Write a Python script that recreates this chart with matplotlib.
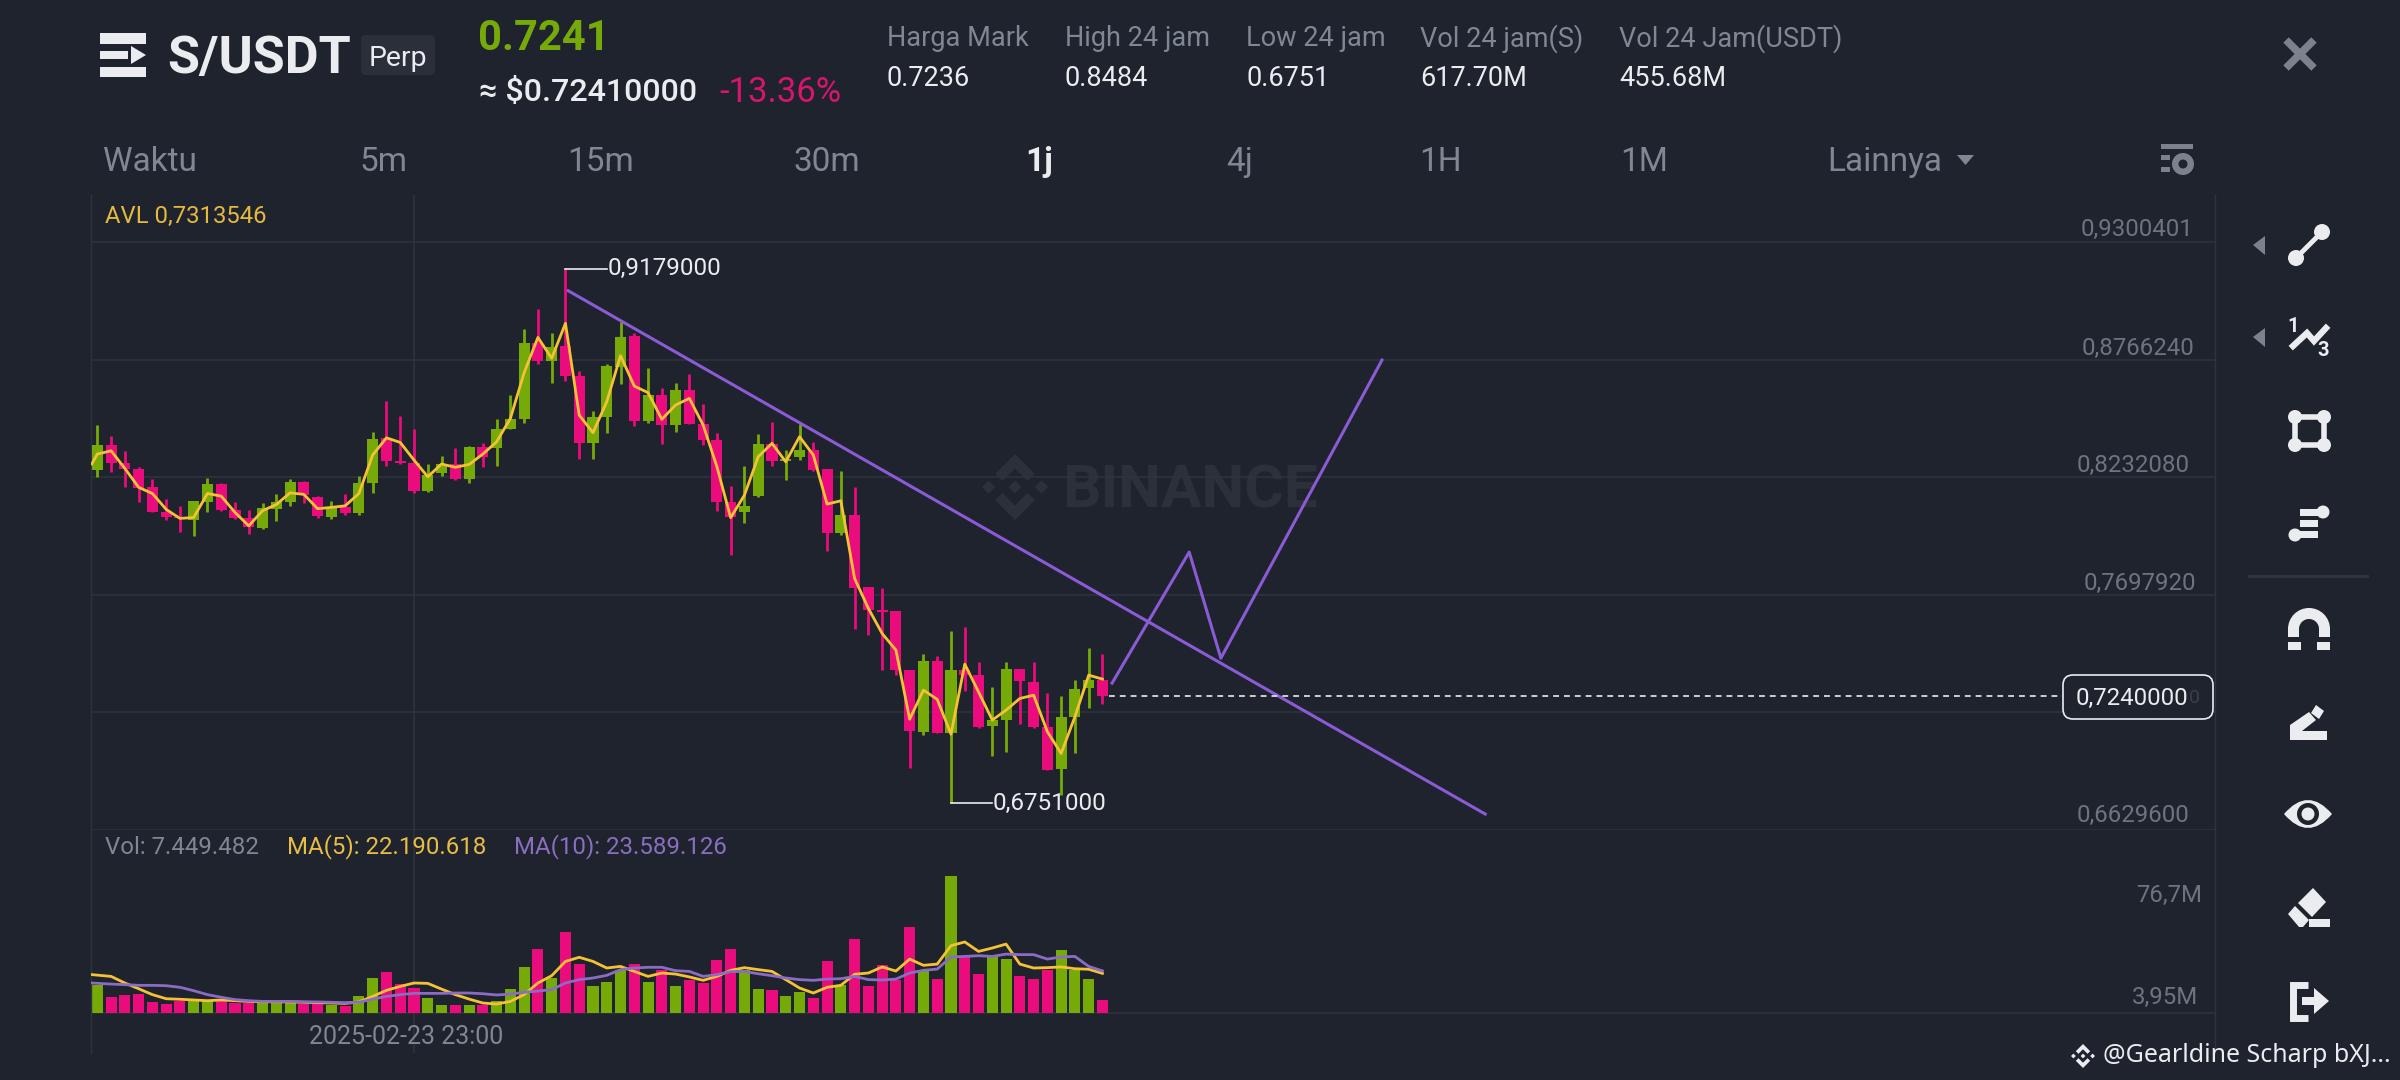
import numpy as np
import matplotlib
matplotlib.use("Agg")
import matplotlib.pyplot as plt
from matplotlib.patches import Polygon, Rectangle, Circle, Wedge, FancyBboxPatch, PathPatch
from matplotlib.path import Path

plt.rcParams['font.family'] = ['Roboto', 'DejaVu Sans']

# candles
highs = [.8469,.8420,.8352,.8280,.8224,.8131,.8102,.8125,.8230,.8207,.8121,.8083,.8116,.8154,.8222,.8213,.8146,.8125,.8154,.8239,
         .8436,.8579,.8510,.8451,.8290,.8330,.8363,.8372,.8389,.8495,.8605,.8905,.8996,.8885,.9179,.8714,.8534,.8745,.8938,.8885,
         .8726,.8636,.8661,.8701,.8564,.8434,.8192,.8283,.8428,.8484,.8355,.8476,.8393,.8268,.8261,.8189,.7734,.7731,.7625,.7356,
         .7427,.7419,.7535,.7553,.7394,.7280,.7394,.7363,.7394,.7253,.7239,.7313,.7457,.7429]
lows = [.8234,.8257,.8186,.8118,.8072,.8037,.7984,.7966,.8075,.8078,.8040,.7972,.7999,.8033,.8102,.8113,.8045,.8043,.8060,.8059,
        .8161,.8284,.8292,.8161,.8167,.8239,.8219,.8204,.8280,.8284,.8449,.8480,.8745,.8661,.8670,.8314,.8314,.8431,.8655,.8466,
        .8480,.8383,.8439,.8473,.8378,.8080,.7878,.8022,.8140,.8283,.8219,.8310,.8261,.7898,.7969,.7542,.7515,.7356,.7333,.6909,
        .7059,.7068,.6751,.7260,.7095,.6965,.6985,.7110,.7095,.6902,.6788,.6980,.7182,.7204]
opens = [.8265,.8378,.8295,.8268,.8189,.8075,.8052,.8037,.8121,.8201,.8083,.8045,.8003,.8087,.8121,.8211,.8143,.8052,.8098,.8071,
         .8204,.8408,.8305,.8295,.8171,.8249,.8292,.8222,.8371,.8366,.8449,.8495,.8842,.8760,.8828,.8693,.8389,.8507,.8734,.8873,
         .8487,.8605,.8469,.8628,.8473,.8401,.8121,.8072,.8146,.8383,.8305,.8325,.8355,.8268,.7980,.8060,.7734,.7628,.7625,.7356,
         .7076,.7398,.7071,.7356,.7333,.7101,.7129,.7363,.7303,.7098,.6905,.7141,.7273,.7313]
closes = [.8378,.8295,.8268,.8181,.8075,.8052,.8045,.8122,.8201,.8083,.8045,.8007,.8090,.8118,.8211,.8151,.8055,.8098,.8068,.8204,
          .8404,.8305,.8295,.8171,.8242,.8292,.8222,.8371,.8325,.8449,.8495,.8842,.8760,.8825,.8693,.8389,.8504,.8737,.8867,.8487,
          .8605,.8469,.8628,.8473,.8401,.8121,.8052,.8102,.8383,.8307,.8313,.8355,.8265,.7980,.8060,.7731,.7631,.7619,.7356,.7079,
          .7398,.7071,.7356,.7333,.7098,.7129,.7363,.7306,.7098,.6902,.7141,.7270,.7313,.7240]
avl = [.8337,.8352,.8272,.8186,.8158,.8086,.8045,.8049,.8158,.8146,.8072,.8011,.8080,.8108,.8161,.8154,.8089,.8095,.8102,.8158,
       .8333,.8411,.8390,.8310,.8234,.8292,.8277,.8290,.8337,.8393,.8499,.8707,.8867,.8772,.8931,.8514,.8434,.8575,.8784,.8646,
       .8616,.8495,.8560,.8590,.8469,.8280,.8048,.8151,.8325,.8386,.8302,.8416,.8333,.8110,.8125,.7772,.7636,.7522,.7447,.7133,
       .7265,.7223,.7065,.7383,.7257,.7129,.7174,.7227,.7242,.7076,.6977,.7144,.7333,.7315]
avl_start = .8292

# volume in millions
volumes = [15.9,8.8,9.9,10.5,6.0,4.9,6.9,6.9,6.9,6.5,5.4,5.6,6.5,6.0,6.5,4.9,5.4,4.5,4.1,9.7,
           19.8,23.0,16.2,13.8,8.4,4.5,4.5,4.5,4.5,6.9,13.4,25.6,36.0,19.6,45.2,27.6,14.9,17.2,24.3,27.4,
           17.2,24.3,14.9,18.7,16.6,29.7,35.7,24.3,13.6,12.7,9.7,11.8,8.6,29.3,15.9,41.4,14.9,26.7,18.7,48.2,
           24.3,19.2,76.5,31.2,21.8,31.7,30.4,20.5,19.2,23.9,35.1,24.3,19.2,7.45]
vol_ma5 = [21.5,20.5,16.8,13.6,10.3,8.0,7.7,7.3,6.9,7.3,6.9,6.5,6.3,6.3,6.2,6.0,5.8,5.6,5.4,6.2,
           9.3,12.7,14.9,16.8,16.6,13.4,10.3,7.8,5.6,5.0,6.5,10.3,16.8,20.9,28.9,31.2,28.9,25.2,26.1,23.3,
           20.5,22.4,21.8,20.2,18.3,20.5,23.9,25.4,24.3,23.3,18.7,14.0,11.2,14.4,15.5,21.7,22.4,25.8,23.5,30.2,
           26.7,27.4,37.7,39.8,34.5,36.4,38.6,27.4,25.2,25.4,25.8,24.8,24.5,22.19]
vol_ma10 = [16.8,16.2,15.9,15.5,15.5,15.3,14.4,12.5,10.3,8.8,7.5,6.9,6.5,6.5,6.5,6.3,6.2,6.0,5.8,6.0,
            7.8,9.3,10.3,11.0,11.0,11.0,11.2,11.2,10.8,10.1,10.6,11.6,12.3,13.1,16.8,18.7,19.6,21.1,24.3,25.2,
            25.6,25.6,23.7,23.3,20.5,21.5,23.2,23.3,22.0,20.9,19.6,18.7,18.3,19.0,19.2,20.5,18.7,18.5,19.0,22.4,
            23.9,24.6,31.4,31.7,32.1,31.7,33.0,32.7,32.7,30.2,31.4,31.7,26.1,23.59]

# hand drawn lines on the chart (bar index, price)
trend_x = [34.2, 100.8]
trend_y = [.9079, .6702]
path_x = [73.7, 79.3, 81.6, 93.3]
path_y = [.7297, .7892, .7410, .8764]

grid_prices = [.9300401, .8766240, .8232080, .7697920, .7163760, .6629600]
last_price = .7240
high_price = .9179
low_price = .6751

price_labels = ['0,9300401', '0,8766240', '0,8232080', '0,7697920', '0,6629600']
price_label_xy = [(2193, 229), (2194, 348), (2190, 465), (2196, 583), (2189, 815)]
stat_names = ['Harga Mark', 'High 24 jam', 'Low 24 jam', 'Vol 24 jam(S)', 'Vol 24 Jam(USDT)']
stat_values = ['0.7236', '0.8484', '0.6751', '617.70M', '455.68M']
stat_x = [887, 1065, 1246, 1420, 1619]
tabs = ['5m', '15m', '30m', '1j', '4j', '1H', '1M']
tab_x = [384, 601, 827, 1039, 1240, 1440, 1644]

BG = '#1e232d'
GRID = '#2e333d'
GREEN = '#76aa08'
PINK = '#ea0b7d'
YELLOW = '#f4c234'
PURPLE = '#8b5bd6'
GREY = '#7f8794'
AXGREY = '#6d7480'
WHITE = '#eaecef'
ICON = '#7b828e'

W, H = 2400, 1080
fig = plt.figure(figsize=(24, 10.8), dpi=100, facecolor=BG)


def axes_px(x0, y0, x1, y1):
    return fig.add_axes([x0 / W, 1 - y1 / H, (x1 - x0) / W, (y1 - y0) / H])


ax = axes_px(90.7, 195, 2215, 830)
vol = axes_px(90.7, 830, 2215, 1053)
ui = fig.add_axes([0, 0, 1, 1], zorder=5)
ui.set_xlim(0, W)
ui.set_ylim(H, 0)
ui.axis('off')

xlim = (-0.48, 153.8)
x = np.arange(len(closes))
colors = [GREEN if c >= o else PINK for o, c in zip(opens, closes)]

for a in (ax, vol):
    a.set_facecolor(BG)
    a.set_xlim(*xlim)
    a.set_xticks([23])
    a.grid(True, color=GRID, lw=1.1)
    a.set_axisbelow(True)
    a.tick_params(length=0, labelleft=False, labelbottom=False)
    for side in a.spines:
        a.spines[side].set_visible(side in ('left', 'right'))
        a.spines[side].set_color(GRID)
        a.spines[side].set_linewidth(1.0)

# watermark sits under the candles
ax.set_ylim(.6629600, .95139)
ax.set_yticks(grid_prices)


def binance_logo(a, cx, cy, s, color, **kw):
    top = [(0, -1), (.6, -.4), (.38, -.18), (0, -.56), (-.38, -.18), (-.6, -.4)]
    shapes = [top, [(p, -q) for p, q in top]]
    for dx in (-.8, 0, .8):
        shapes.append([(dx, -.2), (dx + .2, 0), (dx, .2), (dx - .2, 0)])
    for sh in shapes:
        a.add_patch(Polygon([(cx + p * s, cy + q * s) for p, q in sh], closed=True, fc=color, ec='none', **kw))


binance_logo(ax, 1015, 487, 33, '#2b303a', transform=ui.transData, zorder=0.5)
ax.text(1062, 492, 'BINANCE', transform=ui.transData, color='#2b303a', fontsize=43.5, fontweight='bold',
        va='center', ha='left', zorder=0.5)

ax.vlines(x, lows, highs, colors=colors, lw=2.0, zorder=2)
ax.bar(x, np.abs(np.array(closes) - np.array(opens)), bottom=np.minimum(opens, closes), width=0.8, color=colors, zorder=3)
ax.plot(np.r_[-0.4, x], np.r_[avl_start, avl], color=YELLOW, lw=2.0, zorder=4)
ax.plot(trend_x, trend_y, color=PURPLE, lw=2.2, zorder=4)
ax.plot(path_x, path_y, color=PURPLE, lw=2.2, zorder=4)
ax.plot([73.5, 142.75], [last_price, last_price], color=WHITE, lw=1.2, ls=(0, (3.5, 3)), zorder=4)

# high / low markers
ax.plot([34, 37], [high_price, high_price], color=WHITE, lw=1.2, zorder=4)
ax.text(37.05, high_price, '0,9179000', color=WHITE, fontsize=17.5, va='center', ha='left', zorder=4)
ax.plot([62, 65], [low_price, low_price], color=WHITE, lw=1.2, zorder=4)
ax.text(65.05, low_price, '0,6751000', color=WHITE, fontsize=17.5, va='center', ha='left', zorder=4)

# volume pane
vol.set_ylim(-22.4, 102.5)
vol.set_yticks([0])
vol.bar(x, volumes, width=0.8, color=colors, zorder=2)
vol_x = np.r_[-0.4, x[1:]]
vol.plot(vol_x, vol_ma5, color=YELLOW, lw=2.0, zorder=3)
vol.plot(vol_x, vol_ma10, color='#8a6cc4', lw=2.0, zorder=3)


def txt(px, py, s, color=GREY, size=19, ha='left', weight='normal', **kw):
    ui.text(px, py, s, color=color, fontsize=size, ha=ha, va='center', fontweight=weight, **kw)


def poly(pts, color=WHITE):
    ui.add_patch(Polygon(pts, closed=True, fc=color, ec='none'))


def rect(x0, y0, x1, y1, color=WHITE):
    ui.add_patch(Rectangle((x0, y0), x1 - x0, y1 - y0, fc=color, ec='none'))


def dot(cx, cy, r, color=WHITE):
    ui.add_patch(Circle((cx, cy), r, fc=color, ec='none'))


# header
rect(100, 33, 146, 44)
rect(100, 51, 128, 59)
poly([(131, 46), (146, 55), (131, 64)])
rect(100, 67, 146, 77)
txt(167, 59, 'S/USDT', WHITE, 37.5, weight='bold')
ui.add_patch(FancyBboxPatch((365, 39), 66, 32, boxstyle='round,pad=4,rounding_size=5', fc='#2a2f39', ec='none'))
txt(398, 59, 'Perp', WHITE, 20.5, ha='center')
txt(478, 38, '0.7241', GREEN, 30, weight='bold')
txt(479, 93, '≈ $0.72410000', WHITE, 23.2, weight='medium')
txt(719, 93, '-13.36%', '#d6156f', 25)
for sx, name, value in zip(stat_x, stat_names, stat_values):
    txt(sx, 39, name, GREY, 19.5)
    txt(sx, 79, value, WHITE, 19.5)

# time tabs
txt(103, 162, 'Waktu', GREY, 24)
for tx, tab in zip(tab_x, tabs):
    if tab == '1j':
        txt(tx, 162, tab, WHITE, 24, ha='center', weight='bold')
    else:
        txt(tx, 162, tab, GREY, 24, ha='center')
txt(1827, 162, 'Lainnya', GREY, 24)
poly([(1957, 155), (1974, 155), (1965.5, 165)], GREY)

# small settings icon next to the tabs
rect(2161, 144, 2193, 149, ICON)
rect(2161, 155, 2170, 160, ICON)
rect(2161, 167, 2170, 172, ICON)
dot(2183, 164, 11, ICON)
dot(2183, 164, 4.5, BG)

# close
ui.plot([2286, 2314], [40, 68], color=ICON, lw=5.5, solid_capstyle='butt')
ui.plot([2286, 2314], [68, 40], color=ICON, lw=5.5, solid_capstyle='butt')

# pane labels
txt(105, 216, 'AVL 0,7313546', '#e6b93e', 17.2)
for (lx, ly), s in zip(price_label_xy, price_labels):
    txt(lx, ly, s, AXGREY, 17.3, ha='right')
txt(2202, 895, '76,7M', AXGREY, 17.3, ha='right')
txt(2198, 997, '3,95M', AXGREY, 17.3, ha='right')
txt(105, 847, 'Vol: 7.449.482', GREY, 17.3)
txt(287, 847, 'MA(5): 22.190.618', '#e8bd45', 17.3)
txt(514, 847, 'MA(10): 23.589.126', '#8a6fc0', 17.3)
txt(406, 1037, '2025-02-23 23:00', GREY, 18, ha='center')

# last price box, with the covered axis label just showing at its right end
ui.add_patch(FancyBboxPatch((2069, 681), 138, 32, boxstyle='round,pad=6,rounding_size=10', fc=BG, ec=WHITE, lw=1.2))
txt(2200, 698, '0', '#3a3f49', 14, ha='right')
txt(2188, 698, '0,7240000', WHITE, 17.3, ha='right')

# side toolbar
poly([(2253, 245), (2265, 236), (2265, 255)], ICON)
ui.plot([2296, 2322], [258, 232], color=WHITE, lw=3.5)
dot(2296, 258, 8)
dot(2322, 232, 8)

poly([(2253, 337), (2265, 328), (2265, 347)], ICON)
txt(2293, 326, '1', WHITE, 14.5, ha='center', weight='bold')
txt(2323, 351, '3', WHITE, 14.5, ha='center', weight='bold')
ui.plot([2293, 2307, 2314, 2326], [346, 333, 341, 328], color=WHITE, lw=4.5, solid_joinstyle='miter')

ui.add_patch(Rectangle((2295, 417), 29, 28, fc='none', ec=WHITE, lw=4))
for cx, cy in [(2295, 417), (2324, 417), (2295, 445), (2324, 445)]:
    dot(cx, cy, 7)

rect(2300, 509, 2322, 516)
dot(2323, 512, 6.5)
rect(2300, 520, 2318, 527)
rect(2298, 531, 2318, 538)
dot(2295, 535, 6.5)

rect(2248, 575, 2369, 578, GRID)

ui.add_patch(Wedge((2309, 629), 21, 180, 360, width=11, fc=WHITE, ec='none'))
rect(2288, 628, 2299, 637)
rect(2319, 628, 2330, 637)
rect(2288, 642, 2301, 650)
rect(2317, 642, 2330, 650)

poly([(2290, 725), (2309, 712), (2316, 720), (2302, 731), (2327, 731), (2327, 740), (2290, 740)])
poly([(2316, 705), (2324, 711), (2319, 719), (2311, 713)])

eye = Path([(2284, 814), (2308, 786), (2332, 814), (2308, 842), (2284, 814), (2284, 814)],
           [Path.MOVETO, Path.CURVE3, Path.LINETO, Path.CURVE3, Path.LINETO, Path.CLOSEPOLY])
ui.add_patch(PathPatch(eye, fc=WHITE, ec='none'))
dot(2308, 814, 11, BG)
dot(2308, 814, 6.5)

poly([(2313, 888), (2326, 902), (2312, 917), (2298, 903)])
poly([(2288, 914), (2295, 906), (2309, 920), (2303, 927), (2299, 927)])
rect(2309, 919, 2330, 927)

ui.plot([2308, 2292.5, 2292.5, 2308], [984.5, 984.5, 1017.5, 1017.5], color=WHITE, lw=5, solid_joinstyle='miter', solid_capstyle='butt')
rect(2302, 997, 2316, 1005)
poly([(2314, 988), (2329, 1001), (2314, 1014)])

# footer
binance_logo(ui, 2083, 1056, 12, WHITE)
ui.text(2103, 1056, '@Gearldine Scharp bXJ...', color=WHITE, fontsize=18, family=['Noto Sans', 'DejaVu Sans'], va='center', ha='left')

fig.savefig('out.png', dpi=100, facecolor=BG)
